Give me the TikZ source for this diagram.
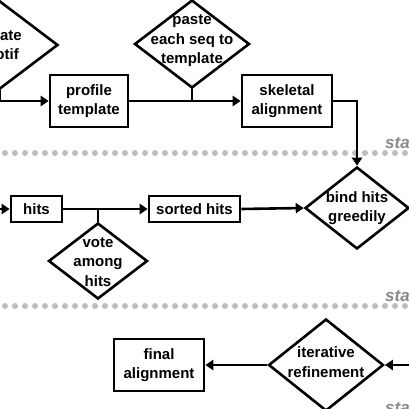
\documentclass[tikz,border=0pt]{standalone}
\usepackage{fontspec}
\setmainfont{Liberation Sans}
\usetikzlibrary{arrows.meta,shapes.geometric}
\definecolor{dotgray}{HTML}{BDBDBD}
\definecolor{stagegray}{HTML}{8A8A8A}
\tikzset{
  lbl/.style={font=\fontsize{15}{19.5}\selectfont\bfseries, align=center, inner sep=0pt},
  procbox/.style={draw, line width=2.6pt, inner sep=0pt, font=\fontsize{15}{19.5}\selectfont\bfseries, align=center},
  decision/.style={draw, diamond, line width=2.6pt, inner sep=0pt},
  link/.style={line width=2.6pt},
  arr/.style={link, -{Triangle[length=8pt,width=10pt]}},
  dotline/.style={dotgray, line width=6pt, line cap=round, dash pattern=on 0pt off 10pt},
  stagelbl/.style={stagegray, font=\fontsize{17}{17}\selectfont\bfseries\itshape, inner sep=0pt, anchor=base west}
}
\begin{document}
\begin{tikzpicture}[x=1pt,y=-1pt]
\useasboundingbox (0,0) rectangle (409,409);
\clip (0,0) rectangle (409,409);
\fill[white] (0,0) rectangle (409,409);

% stage separators
\draw[dotline] (5,153) -- (409,153);
\draw[dotline] (5,306) -- (409,306);
\node[stagelbl] (st1) at (385,148) {sta};
\node[stagelbl] (st2) at (385,301) {sta};
\node[stagelbl] (st3) at (385,413) {sta};

% stage 1
\node[decision, minimum width=116pt, minimum height=88pt] (create) at (0,45) {};
\node[lbl, anchor=east] (create-t1) at (22,36) {ate};
\node[lbl, anchor=east] (create-t2) at (19,54) {otif};
\node[procbox, minimum width=78pt, minimum height=52pt] (prof) at (89,101) {profile\\template};
\node[decision, minimum width=115pt, minimum height=88pt] (paste) at (192,44) {};
\node[lbl] (paste-t) at (192,41) {paste\\each seq to\\template};
\node[procbox, minimum width=90pt, minimum height=52pt] (skel) at (287,101) {skeletal\\alignment};

% stage 2
\node[procbox, minimum width=51pt, minimum height=26pt] (hits) at (36.5,209) {hits};
\node[procbox, minimum width=91pt, minimum height=26pt] (sorted) at (194.5,209) {sorted hits};
\node[decision, minimum width=99pt, minimum height=76pt] (vote) at (98,261) {};
\node[lbl] (vote-t) at (98,262) {vote\\among\\hits};
\node[decision, minimum width=104pt, minimum height=82pt] (bind) at (357,208) {};
\node[lbl] (bind-t) at (357,208) {bind hits\\greedily};

% stage 3
\node[procbox, minimum width=90pt, minimum height=52pt] (final) at (159,365) {final\\alignment};
\node[decision, minimum width=115pt, minimum height=92pt] (iter) at (326,365) {};
\node[lbl] (iter-t) at (326,362) {iterative\\refinement};

\coordinate (hin) at (0,209);
\coordinate (rin) at (409,365);

% connectors
\draw[arr] (create.south) |- (prof.west);
\draw[arr] (prof.east) -- (skel.west);
\draw[link] (paste.south) -- (paste.south |- prof.east);
\draw[arr] (skel.east) -| (bind.north);
\draw[arr] (hin) -- (hits.west);
\draw[arr] (hits.east) -- (sorted.west);
\draw[link] (vote.north) -- (vote.north |- hits.east);
\draw[arr] (sorted.east) -- (bind.west);
\draw[arr] (rin) -- (iter.east);
\draw[arr] (iter.west) -- (final.east);
\end{tikzpicture}
\end{document}
